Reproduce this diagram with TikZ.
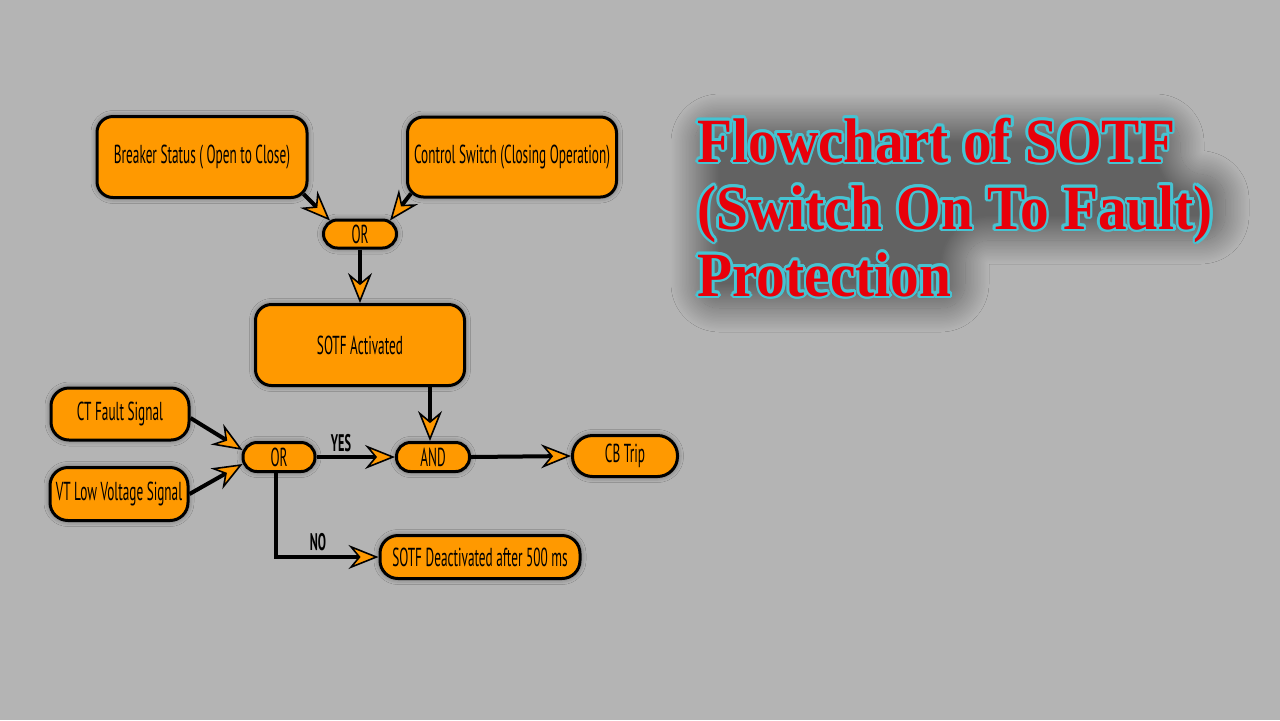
\documentclass[tikz,border=0pt]{standalone}
\usepackage{fontspec}
\setmainfont{Liberation Serif}
\newfontfamily\boxfont[FakeStretch=0.51]{PT Sans}
\newfontfamily\titlefont[FakeStretch=0.91]{Liberation Serif}
\usetikzlibrary{arrows.meta,calc,shadows.blur}
\definecolor{bgray}{RGB}{180,180,180}
\definecolor{boxorange}{RGB}{255,153,0}
\definecolor{titlered}{RGB}{232,0,10}
\definecolor{glowcyan}{RGB}{70,195,210}
\tikzset{
  box/.style={draw=black, line width=1.5pt, fill=boxorange, rounded corners=8pt,
    align=center, inner sep=0pt, font=\boxfont\fontsize{13}{15}\selectfont,
    blur shadow={shadow xshift=0pt, shadow yshift=0pt, shadow blur radius=3pt, shadow scale=1, shadow opacity=50}},
  pill/.style={box, rounded corners=7pt},
  arr/.style={line width=2pt, draw=black,
    -{Stealth[length=15pt,width=12pt,inset=5pt,fill=boxorange,line width=0.8pt]}},
  lbl/.style={inner sep=0pt, font=\boxfont\bfseries\fontsize{12}{13}\selectfont},
  ttl/.style={anchor=base west, inner sep=0pt, font=\titlefont\bfseries\fontsize{31.5}{34}\selectfont},
  blob/.style={blur shadow={shadow xshift=0pt, shadow yshift=0pt, shadow blur radius=12pt, shadow blur steps=40, shadow scale=1, shadow opacity=45}},
}
\newcommand\glowline[3]{%
  \foreach \ang in {0,30,...,330}{%
    \node[ttl, text=glowcyan] at ($(#2)+(\ang:2.6)$) {#3};}%
  \node[ttl, text=titlered] (#1) at (#2) {#3};%
}
\begin{document}
\begin{tikzpicture}[x=0.5pt,y=-0.5pt]
\fill[bgray] (0,0) rectangle (1280,720);
\useasboundingbox (0,0) rectangle (1280,720);

% title shadow
\path[blob, rounded corners=12pt] (695,118) -- (1180,118) -- (1180,175) -- (1225,175)
  -- (1225,240) -- (965,240) -- (965,308) -- (695,308) -- cycle;

% title
\glowline{t1}{697,162}{Flowchart of SOTF}
\glowline{t2}{697,229}{(Switch On To Fault)}
\glowline{t3}{697,296}{Protection}

% nodes
\node[box, minimum width=105pt, minimum height=40.5pt] (brk) at (202,157) {Breaker Status ( Open to Close)};
\node[box, minimum width=104.5pt, minimum height=40pt] (ctl) at (512,157) {Control Switch (Closing Operation)};
\node[pill, minimum width=36.5pt, minimum height=14pt] (or1) at (360,234) {OR};
\node[box, minimum width=104.5pt, minimum height=40.5pt] (act) at (360,345) {SOTF Activated};
\node[box, rounded corners=9pt, minimum width=69pt, minimum height=26pt] (ct) at (120,414) {CT Fault Signal};
\node[box, rounded corners=9pt, minimum width=69pt, minimum height=26.5pt] (vt) at (119,494) {VT Low Voltage Signal};
\node[pill, minimum width=36pt, minimum height=14.5pt] (or2) at (279,457) {OR};
\node[pill, minimum width=36.5pt, minimum height=14.5pt] (and) at (433,457) {AND};
\node[pill, rounded corners=10pt, minimum width=52.5pt, minimum height=20.5pt] (cb) at (625,456) {CB Trip};
\node[box, rounded corners=9pt, minimum width=100pt, minimum height=21.5pt] (deact) at (480,557) {SOTF Deactivated after 500 ms};

\node[lbl] (yes) at (341,443) {YES};
\node[lbl] (no) at (318,542) {NO};

% connectors
\coordinate (ain) at ($(and.north)+(-3,0)$);
\coordinate (aout) at ($(act.south)+(70,0)$);
\coordinate (odown) at ($(or2.south)+(-3,0)$);
\draw[arr] ($(brk.south east)+(-5,-5)$) -- ($(or1.north west)+(8,2)$);
\draw[arr] ($(ctl.south west)+(5,-5)$) -- ($(or1.north east)+(-8,2)$);
\draw[arr] (or1.south) -- (act.north);
\draw[arr] (aout) -- (ain);
\draw[arr] ($(ct.east)+(0,4)$) -- ($(or2.west)+(1,-7)$);
\draw[arr] (vt.east) -- ($(or2.west)+(1,7)$);
\draw[arr] (or2.east) -- (and.west);
\draw[arr] (and.east) -- (cb.west);
\draw[arr] (odown) |- (deact.west);
\end{tikzpicture}
\end{document}
